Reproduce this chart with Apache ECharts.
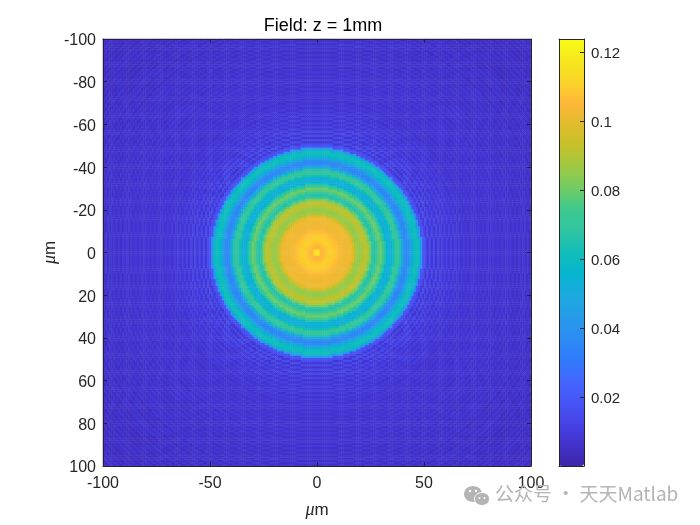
<!DOCTYPE html>
<html>
<head>
<meta charset="utf-8">
<style>html,body{margin:0;background:#fff}#main{width:700px;height:525px}</style>
<script src="https://cdn.jsdelivr.net/npm/echarts@6/dist/echarts.min.js"></script>
</head>
<body>
<div id="main"></div>
<script>
// field magnitude by radius, one value per micron, read along the rings
const discProfile = [
  0.122, 0.114, 0.105, 0.105, 0.107, 0.109, 0.110, 0.110, 0.109, 0.108,
  0.106, 0.104, 0.103, 0.102, 0.102, 0.103, 0.102, 0.098, 0.091, 0.086,
  0.085, 0.087, 0.091, 0.092, 0.089, 0.081, 0.070, 0.065, 0.070, 0.077,
  0.080, 0.074, 0.066, 0.056, 0.051, 0.054, 0.062, 0.069, 0.071, 0.066,
  0.050, 0.040, 0.035, 0.037, 0.045, 0.055, 0.060, 0.062, 0.058, 0.042,
  0.018
];
// faint ripple outside the disc, out to the plot corners
const rippleProfile = [
  0.016, 0.008, 0.016, 0.007, 0.015, 0.007, 0.014, 0.007, 0.013, 0.007,
  0.012, 0.007, 0.012, 0.007, 0.011, 0.007, 0.010, 0.006, 0.010, 0.007,
  0.009, 0.006, 0.009, 0.007, 0.009, 0.006, 0.009, 0.006, 0.009, 0.006,
  0.009, 0.006, 0.009, 0.006, 0.009, 0.006, 0.009, 0.005, 0.009, 0.006,
  0.009, 0.005, 0.009, 0.005, 0.009, 0.005, 0.008, 0.005, 0.009, 0.005,
  0.008, 0.005, 0.008, 0.005, 0.008, 0.005, 0.008, 0.004, 0.008, 0.005,
  0.008, 0.004, 0.008, 0.005, 0.008, 0.004, 0.007, 0.004, 0.008, 0.004,
  0.007, 0.004, 0.007, 0.004, 0.007, 0.004, 0.007, 0.004, 0.007, 0.004,
  0.007, 0.004, 0.007, 0.004, 0.007, 0.004, 0.007, 0.004, 0.007, 0.004,
  0.007, 0.004
];
const positions = [];
for (let i = -100; i <= 100; i++) positions.push(i);
const colorbarTicks = [0.02, 0.04, 0.06, 0.08, 0.1, 0.12];
const parula = ['#3e26a8', '#4333cc', '#4743e7', '#4755f6', '#4367fd', '#2f7cfc', '#2d8cf3',
  '#259be8', '#1caadf', '#05b5cf', '#12beb9', '#30c4a2', '#3dc98f', '#71cc64', '#9ec943',
  '#c5c12a', '#e0bc2b', '#feb73a', '#fad528', '#f5e71d', '#f9fb15'];

const profile = discProfile.concat(rippleProfile);
const cells = [];
positions.forEach((x, i) => {
  positions.forEach((y, j) => {
    cells.push([i, j, profile[Math.round(Math.hypot(x, y))]]);
  });
});

const inkColor = '#262626';
const font = '"Liberation Sans", Arial, sans-serif';
const plotBox = { left: 103, top: 39, width: 428, height: 427 };
const barBox = { left: 559, top: 39, width: 25, height: 427 };
const labelDrop = 2; // matlab sets its tick labels slightly below the tick

function frameAxis(gridIndex, position, extra) {
  return Object.assign({
    type: 'value', gridIndex, position, z: 5, splitLine: { show: false },
    axisLine: { show: true, onZero: false, lineStyle: { color: inkColor, width: 1 } },
    axisTick: { show: false },
    axisLabel: { show: false }
  }, extra);
}
// carries only tick labels, in a grid shifted down by labelDrop
function labelAxis(gridIndex, position, extra) {
  return frameAxis(gridIndex, position, Object.assign({ axisLine: { show: false } }, extra));
}
const tickStyle = { show: true, inside: true, length: 4, lineStyle: { color: inkColor, width: 1 } };
const xLabelStyle = { show: true, color: inkColor, fontFamily: font, fontSize: 16, margin: 10 };
const yLabelStyle = { show: true, color: inkColor, fontFamily: font, fontSize: 16, margin: 7 };
const nameRich = {
  i: { fontStyle: 'italic', fontFamily: '"Liberation Serif", serif', fontSize: 18, color: inkColor },
  n: { fontFamily: font, fontSize: 17, color: inkColor }
};

const chart = echarts.init(document.getElementById('main'), null, { renderer: 'canvas' });
chart.setOption({
  animation: false,
  backgroundColor: '#fff',
  title: {
    text: 'Field: z = 1mm', left: 318, top: 12, textAlign: 'center',
    textStyle: { color: '#000', fontFamily: font, fontSize: 18, fontWeight: 'normal' }
  },
  grid: [
    Object.assign({}, plotBox),
    Object.assign({}, plotBox),
    Object.assign({}, barBox),
    Object.assign({}, plotBox, { top: plotBox.top + labelDrop }),
    Object.assign({}, barBox, { top: barBox.top + labelDrop })
  ],
  xAxis: [
    { type: 'category', gridIndex: 0, data: positions, show: false },
    frameAxis(1, 'bottom', {
      min: -100, max: 100, interval: 50, axisTick: tickStyle,
      axisLabel: xLabelStyle,
      name: '{i|μ}{n|m}', nameLocation: 'middle', nameGap: 35, nameMoveOverlap: false,
      nameTextStyle: { rich: nameRich }
    }),
    frameAxis(1, 'top', { min: -100, max: 100, interval: 50, axisTick: tickStyle }),
    frameAxis(2, 'bottom', { min: 0, max: 1 }),
    frameAxis(2, 'top', { min: 0, max: 1 }),
    labelAxis(3, 'bottom', { min: 0, max: 1, show: false }),
    labelAxis(4, 'bottom', { min: 0, max: 1, show: false })
  ],
  yAxis: [
    { type: 'category', gridIndex: 0, data: positions, show: false },
    frameAxis(1, 'left', {
      min: -100, max: 100, interval: 20, inverse: true, axisTick: tickStyle,
      name: '{i|μ}{n|m}', nameLocation: 'middle', nameGap: 44, nameRotate: 90, nameMoveOverlap: false,
      nameTextStyle: { rich: nameRich }
    }),
    frameAxis(1, 'right', { min: -100, max: 100, interval: 20, inverse: true, axisTick: tickStyle }),
    frameAxis(2, 'left', { min: 0, max: 0.1238 }),
    frameAxis(2, 'right', {
      min: 0, max: 0.1238,
      axisTick: Object.assign({}, tickStyle, { customValues: colorbarTicks })
    }),
    labelAxis(3, 'left', { min: -100, max: 100, interval: 20, inverse: true, axisLabel: yLabelStyle }),
    labelAxis(4, 'right', {
      min: 0, max: 0.1238,
      axisLabel: Object.assign({}, yLabelStyle, { fontSize: 15, customValues: colorbarTicks, formatter: (v) => String(v) })
    })
  ],
  visualMap: {
    type: 'continuous', seriesIndex: 0, dimension: 2, min: 0, max: 0.1238,
    calculable: false, realtime: false, hoverLink: false, text: null, showLabel: false,
    left: barBox.left, top: barBox.top, itemWidth: barBox.width, itemHeight: barBox.height, padding: 0,
    inRange: { color: parula },
    textStyle: { color: 'transparent', fontSize: 1 }
  },
  series: [{
    type: 'heatmap', xAxisIndex: 0, yAxisIndex: 0, data: cells,
    silent: true, progressive: 0, emphasis: { disabled: true }
  }],
  graphic: [
    { type: 'ellipse', shape: { cx: 473, cy: 494, rx: 9, ry: 8 }, style: { fill: '#b4b4b4' }, z: 20 },
    { type: 'ellipse', shape: { cx: 482, cy: 499, rx: 7.5, ry: 6.5 }, style: { fill: '#b4b4b4', stroke: '#fff', lineWidth: 1 }, z: 21 },
    { type: 'circle', shape: { cx: 470, cy: 491, r: 1.2 }, style: { fill: '#fff' }, z: 22 },
    { type: 'circle', shape: { cx: 476, cy: 491, r: 1.2 }, style: { fill: '#fff' }, z: 22 },
    { type: 'circle', shape: { cx: 479.5, cy: 498, r: 1 }, style: { fill: '#fff' }, z: 22 },
    { type: 'circle', shape: { cx: 484.5, cy: 498, r: 1 }, style: { fill: '#fff' }, z: 22 },
    {
      type: 'text', left: 495, top: 484, z: 20,
      style: { text: '公众号 · 天天Matlab', fill: '#b4b4b4', font: '19px "Noto Sans CJK SC", sans-serif' }
    }
  ]
});
</script>
</body>
</html>
